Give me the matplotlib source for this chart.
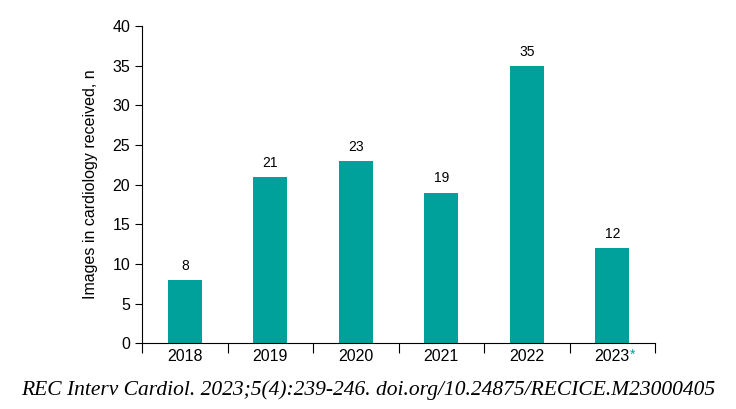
import matplotlib.pyplot as plt
from matplotlib.transforms import blended_transform_factory

years = ['2018', '2019', '2020', '2021', '2022', '2023']
images = [8, 21, 23, 19, 35, 12]
teal = '#00a19b'

plt.rcParams['font.family'] = ['Liberation Sans', 'DejaVu Sans']

fig = plt.figure(figsize=(7.36, 4.09), dpi=100)
ax = fig.add_axes([0.193, 0.161, 0.697, 0.775])

x = list(range(len(years)))
ax.bar(x, images, width=0.4, color=teal)
for xi, v in zip(x, images):
    ax.text(xi, v + 0.9, str(v), ha='center', va='bottom', fontsize=10)

ax.set_xlim(-0.5, len(years) - 0.5)
ax.set_ylim(0, 40)
ax.set_yticks(range(0, 41, 5))
ax.tick_params(axis='y', labelsize=11.5, length=5, width=0.8)

# tick marks between categories, labels centred under the bars
ax.set_xticks([i - 0.5 for i in range(len(years) + 1)])
ax.set_xticklabels([])
ax.set_xticks(x, minor=True)
ax.set_xticklabels(years, minor=True)
ax.tick_params(axis='x', which='major', length=7, width=0.8)
ax.tick_params(axis='x', which='minor', length=0, labelsize=11.5, pad=4)

tr = blended_transform_factory(ax.transData, ax.transAxes)
ax.text(5.21, -0.015, '*', transform=tr, color=teal, fontsize=10, ha='left', va='top')

for s in ['top', 'right']:
    ax.spines[s].set_visible(False)
ax.spines['left'].set_linewidth(0.8)
ax.spines['bottom'].set_linewidth(0.8)

ax.set_ylabel('Images in cardiology received, n', fontsize=11.5, labelpad=10)

fig.text(0.5, 0.045, 'REC Interv Cardiol. 2023;5(4):239-246. doi.org/10.24875/RECICE.M23000405',
         ha='center', va='center', fontsize=15.5, style='italic', family='Liberation Serif')

fig.savefig('out.png', dpi=100)
